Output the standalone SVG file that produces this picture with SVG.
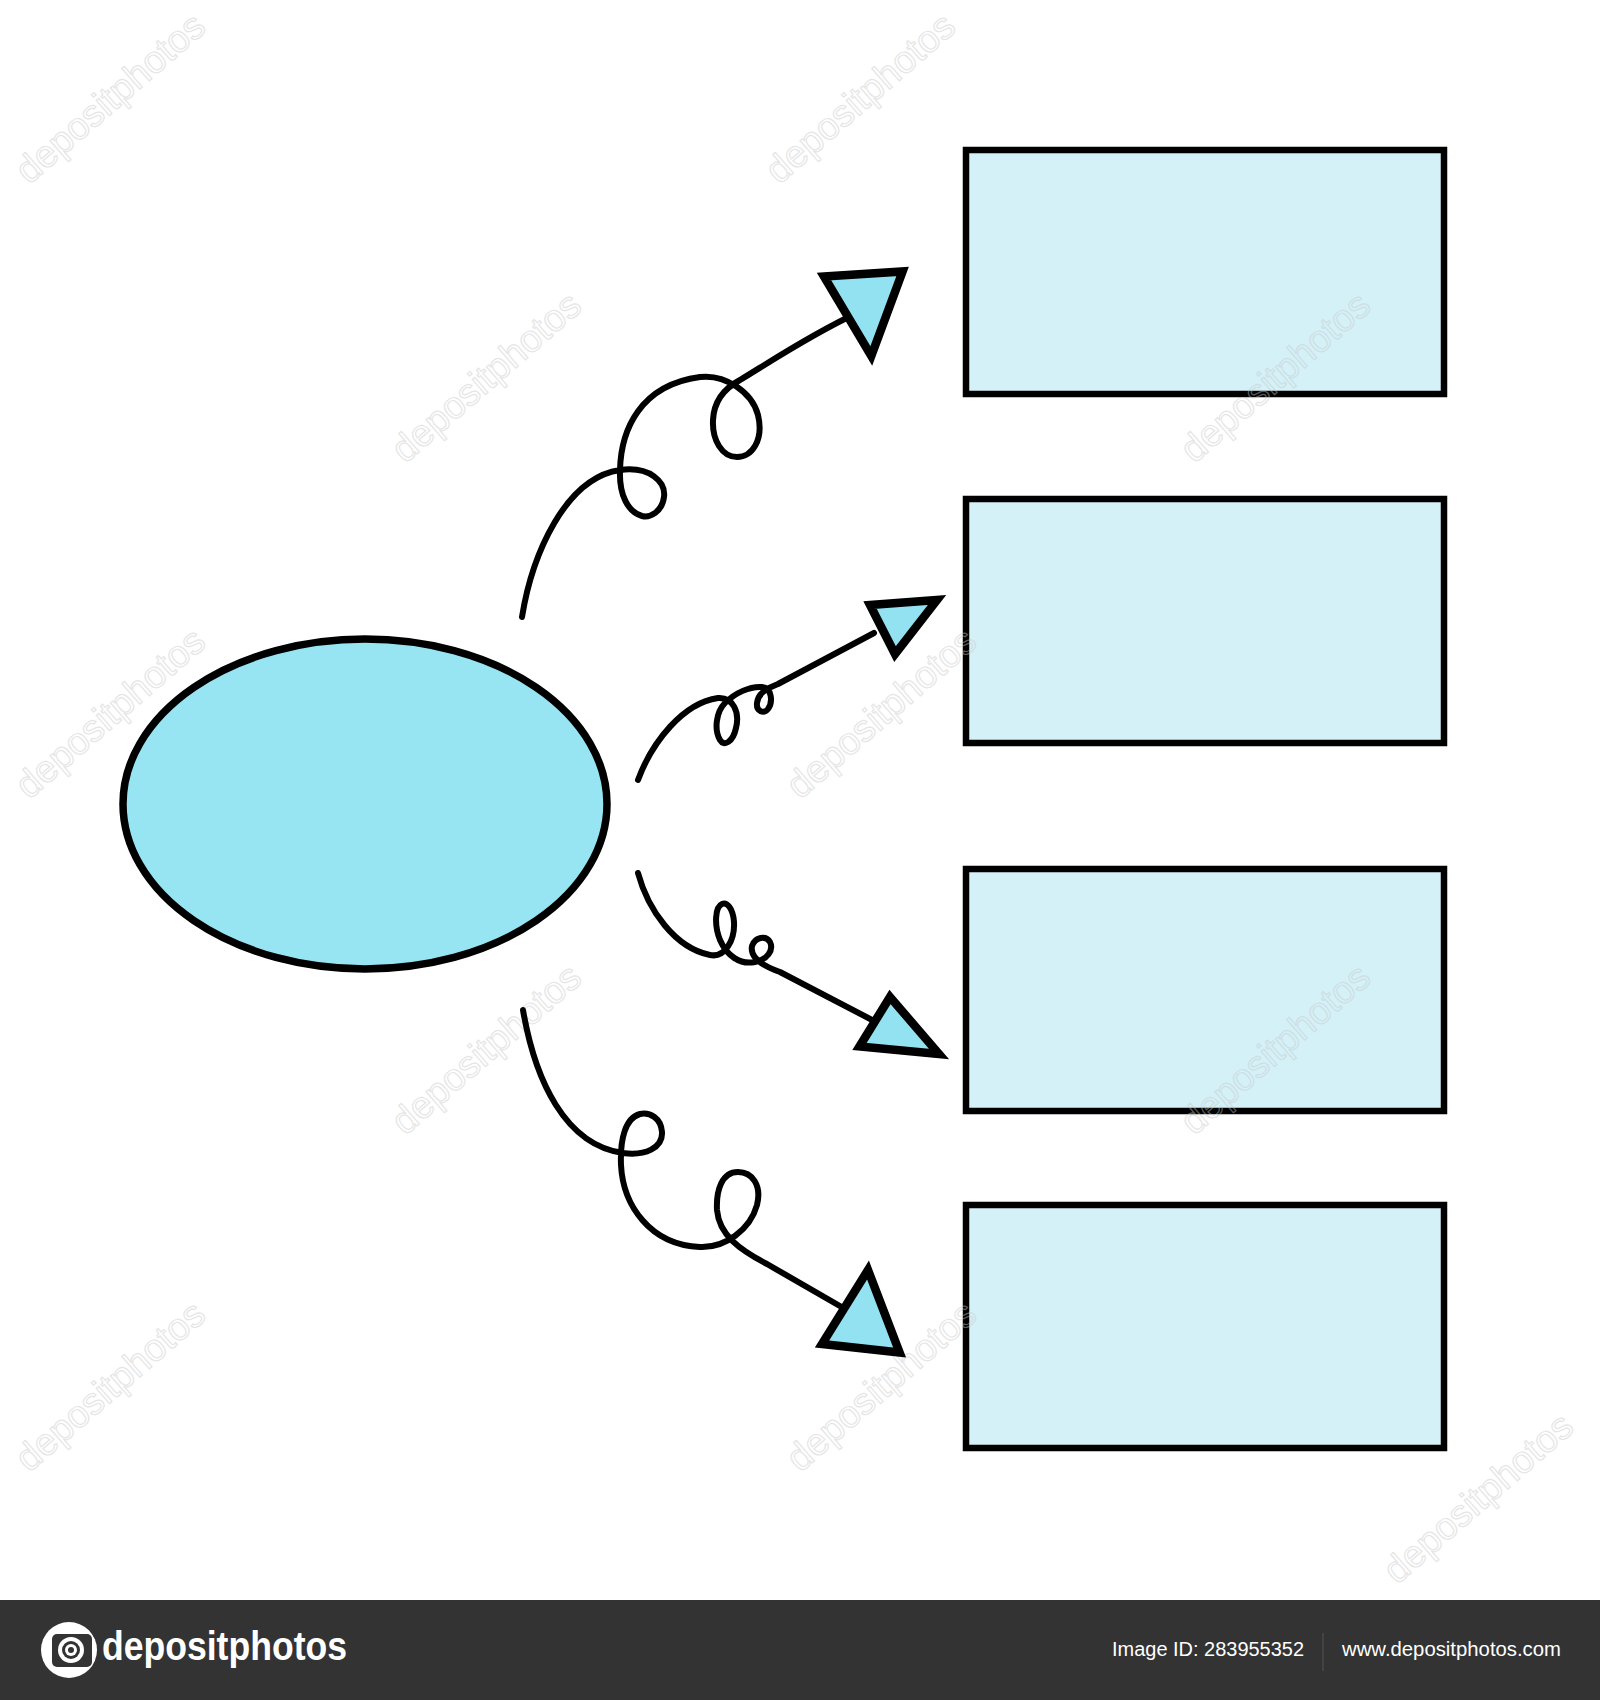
<svg xmlns="http://www.w3.org/2000/svg" width="1600" height="1700" viewBox="0 0 1600 1700">
<style>
.wm{font-family:"Liberation Sans",Arial,sans-serif;font-size:38px;fill:none;stroke:#c8c8c8;stroke-width:1.2;opacity:0.45}
.box{fill:#d4f1f8;stroke:#000;stroke-width:6.5}
.curve{fill:none;stroke:#000;stroke-width:6;stroke-linecap:round;stroke-linejoin:round}
.head{fill:#93e2f2;stroke:#000;stroke-width:8.5;stroke-linejoin:miter}
.foot{font-family:"Liberation Sans",Arial,sans-serif;fill:#fff}
</style>
<rect x="0" y="0" width="1600" height="1700" fill="#fff"/>
<g id="node-center">
<ellipse cx="365" cy="804" rx="242" ry="165" fill="#97e5f3" stroke="#000" stroke-width="7.5"/>
</g>
<g id="node-box1"><rect class="box" x="966" y="150" width="478" height="244"/></g>
<g id="node-box2"><rect class="box" x="966" y="499" width="478" height="244"/></g>
<g id="node-box3"><rect class="box" x="966" y="869" width="478" height="242"/></g>
<g id="node-box4"><rect class="box" x="966" y="1205" width="478" height="243"/></g>
<g id="watermarks">
<text class="wm" transform="translate(112,100) rotate(-41)" text-anchor="middle" dominant-baseline="middle">depositphotos</text>
<text class="wm" transform="translate(862,100) rotate(-41)" text-anchor="middle" dominant-baseline="middle">depositphotos</text>
<text class="wm" transform="translate(488,379) rotate(-41)" text-anchor="middle" dominant-baseline="middle">depositphotos</text>
<text class="wm" transform="translate(1277,379) rotate(-41)" text-anchor="middle" dominant-baseline="middle">depositphotos</text>
<text class="wm" transform="translate(112,715) rotate(-41)" text-anchor="middle" dominant-baseline="middle">depositphotos</text>
<text class="wm" transform="translate(883,715) rotate(-41)" text-anchor="middle" dominant-baseline="middle">depositphotos</text>
<text class="wm" transform="translate(488,1051) rotate(-41)" text-anchor="middle" dominant-baseline="middle">depositphotos</text>
<text class="wm" transform="translate(1277,1051) rotate(-41)" text-anchor="middle" dominant-baseline="middle">depositphotos</text>
<text class="wm" transform="translate(112,1388) rotate(-41)" text-anchor="middle" dominant-baseline="middle">depositphotos</text>
<text class="wm" transform="translate(883,1388) rotate(-41)" text-anchor="middle" dominant-baseline="middle">depositphotos</text>
<text class="wm" transform="translate(1480,1500) rotate(-41)" text-anchor="middle" dominant-baseline="middle">depositphotos</text>
</g>
<g id="connectors">
<path class="curve" d="M522,617 C532,555 565,478 620,470 C650,466 666,482 664,497 C662,512 650,518 642,516 C628,512 619,495 620,470 C621,430 640,385 700,377 C725,374 752,392 758,415 C764,440 752,457 737,457 C722,457 712,440 713,420 C714,400 725,388 740,380 C765,365 810,335 855,314"/>
<polygon class="head" points="824,276.5 902.6,271.4 871.3,356"/>
<path class="curve" d="M638,780 C652,742 683,703 718,698 C733,697 740,712 736,728 C733,742 724,747 720,740 C714,730 716,712 725,703 C735,693 750,686 762,687 C772,688 773,702 768,709 C764,714 756,712 757,703 C758,694 765,689 778,684 L874,633"/>
<polygon class="head" points="870,605 937,600 895,654"/>
<path class="curve" d="M638,873 C648,910 675,948 710,955 C725,958 735,940 734,922 C733,908 727,902 722,904 C715,907 714,925 720,940 C727,956 740,965 755,962 C767,960 774,950 770,942 C766,935 755,937 752,946 C750,956 760,965 780,972 L876,1022"/>
<polygon class="head" points="890,997 939,1054 859.5,1046.4"/>
<path class="curve" d="M523,1010 C535,1080 565,1145 623,1153 C645,1156 663,1148 662,1132 C661,1118 650,1112 640,1114 C625,1118 620,1140 621,1165 C623,1205 650,1245 700,1247 C725,1248 750,1230 757,1205 C762,1185 752,1172 738,1172 C722,1172 716,1190 717,1210 C719,1235 740,1250 767,1264 L852,1313"/>
<polygon class="head" points="868,1270 899.6,1352.5 822,1344"/>
</g>
<g id="footer">
<rect x="0" y="1600" width="1600" height="100" fill="#333"/>
<circle cx="69" cy="1650" r="28" fill="#fff"/>
<rect x="52" y="1634" width="40" height="33" rx="5" fill="#333"/>
<circle cx="71" cy="1650" r="13" fill="#fff"/>
<circle cx="71" cy="1650" r="9" fill="#333"/>
<circle cx="71" cy="1650" r="6" fill="#fff"/>
<circle cx="71" cy="1650" r="3" fill="#333"/>
<text class="foot" x="102" y="1660" font-size="40" font-weight="bold" textLength="245" lengthAdjust="spacingAndGlyphs">depositphotos</text>
<text class="foot" x="1112" y="1656" font-size="19.5" textLength="192" lengthAdjust="spacingAndGlyphs">Image ID: 283955352</text>
<line x1="1323" y1="1633" x2="1323" y2="1671" stroke="#555" stroke-width="1"/>
<text class="foot" x="1342" y="1656" font-size="19.5" textLength="219" lengthAdjust="spacingAndGlyphs">www.depositphotos.com</text>
</g>
</svg>
